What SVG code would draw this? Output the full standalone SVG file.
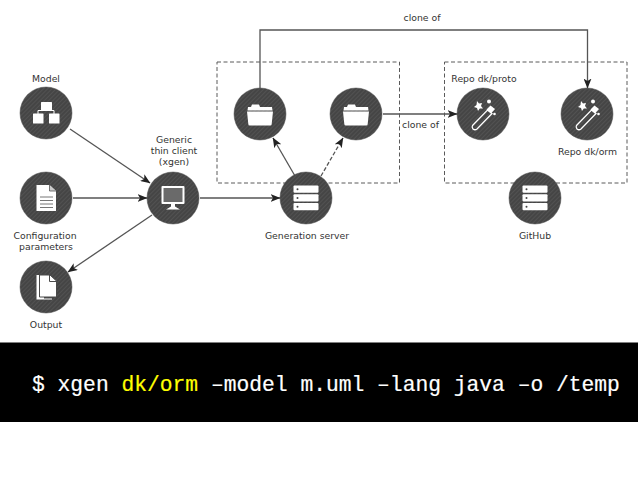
<svg xmlns="http://www.w3.org/2000/svg" width="638" height="478" viewBox="0 0 638 478">
<style>
text{font-family:"DejaVu Sans","Liberation Sans",sans-serif;font-size:9.300px;fill:#333;text-anchor:middle}
.disc{fill:url(#hatch);stroke:#4a4a4a;stroke-width:.5}
.w{fill:#fff;stroke:none}
.conn{fill:none;stroke:#555;stroke-width:1.300}
.box{fill:none;stroke:#5a5a5a;stroke-width:1;stroke-dasharray:4 2.500}
.cmd{font-family:"Liberation Mono","Courier New",monospace;font-size:21.300px;font-weight:400;fill:#fff;text-anchor:start;stroke:#fff;stroke-width:.2}
</style>
<defs>
<pattern id="hatch" width="3" height="3" patternUnits="userSpaceOnUse" patternTransform="rotate(45)">
<rect width="3" height="3" fill="#454545"/><rect width="1" height="3" fill="#525252"/>
</pattern>
<marker id="arr" viewBox="0 0 10 8" refX="9.500" refY="4" markerWidth="10" markerHeight="8" markerUnits="userSpaceOnUse" orient="auto">
<path d="M0 0L10 4L0 8L2.500 4Z" fill="#222"/>
</marker>
<g id="folder"><path class="w" d="M-12-7h3l1-2.500h7l1 2.500h12l.5 3.500h-25Z"/><path class="w" d="M-13-2.500h26l-1.300 12.500a1.500 1.500 0 0 1-1.500 1.500h-20.400a1.500 1.500 0 0 1-1.500-1.500Z"/></g>
<g id="server"><rect class="w" x="-12.500" y="-12.500" width="25" height="7.300" rx="1"/><rect class="w" x="-12.500" y="-3.800" width="25" height="7.300" rx="1"/><rect class="w" x="-12.500" y="5" width="25" height="7.300" rx="1"/><circle cx="-8.500" cy="-8.800" r="1" fill="#444"/><circle cx="-8.500" cy="0" r="1" fill="#444"/><circle cx="-8.500" cy="8.800" r="1" fill="#444"/></g>
<g id="wand"><path d="M-10.500 11.500L4.500-4L9-.5L-6 15Q-8 16.500-10 15Q-11.500 13-10.500 11.500Z" fill="none" stroke="#fff" stroke-width="1.300"/><path class="w" d="M3.500-4.500L7.500-8.500L12-5L8-.5Z"/><path class="w" d="M-6-13l2 2.500 3-.5-1 3 2 2.500-3.200 0-1.800 2.500-1-3-3-1 2.500-2Z"/><circle class="w" cx="6" cy="-12.500" r="2"/><circle class="w" cx="11.500" cy="0" r="1.300"/></g>
</defs>
<rect width="638" height="478" fill="#fff"/>
<g id="connectors">
<path class="conn" d="M70 129L150 183" marker-end="url(#arr)"/>
<path class="conn" d="M73 198H147" marker-end="url(#arr)"/>
<path class="conn" d="M152 215L68 272" marker-end="url(#arr)"/>
<path class="conn" d="M200 198H280" marker-end="url(#arr)"/>
<path class="conn" d="M295 176L273 138" marker-end="url(#arr)"/>
<path class="conn" d="M321 176L343 138" stroke-dasharray="4 2" marker-end="url(#arr)"/>
<path class="conn" d="M383 114H457" marker-end="url(#arr)"/>
<path class="conn" d="M260 88V30H587.500V88" marker-end="url(#arr)"/>
<rect class="box" x="217" y="62" width="182.500" height="121"/>
<rect class="box" x="444.500" y="62" width="182.500" height="121"/>
<text x="422" y="21">clone of</text>
<text x="420.500" y="128">clone of</text>
</g>
<g id="model"><circle class="disc" cx="46" cy="113" r="26"/>
<text x="46" y="82">Model</text>
<path d="M46 107V110M38 115V110.500H54V115" fill="none" stroke="#fff" stroke-width="1"/>
<rect class="w" x="41" y="102" width="11" height="8" rx=".5"/><rect class="w" x="33" y="113.500" width="10.500" height="10" rx=".5"/><rect class="w" x="49" y="113.500" width="10.500" height="10" rx=".5"/></g>
<g id="config"><circle class="disc" cx="46" cy="198" r="26"/>
<path class="w" d="M36.500 185H49.500L56 191V211H36.500Z"/>
<path d="M49.500 185V191H56" fill="#ccc" stroke="#555" stroke-width=".8"/>
<path d="M40 197H53M40 200.500H53M40 204H53M40 207.500H53" fill="none" stroke="#777" stroke-width="1"/>
<text x="45" y="239">Configuration</text><text x="46" y="250">parameters</text></g>
<g id="output"><circle class="disc" cx="46" cy="287" r="26"/>
<path class="w" d="M36.500 275H44V298.500H52V299.500H36.500Z"/>
<path d="M39.500 275V297H56.500V281L50 275Z" fill="#fff" stroke="#4a4a4a" stroke-width="1"/>
<path d="M49.500 275V281.500H56.500" fill="none" stroke="#4a4a4a" stroke-width="1"/>
<text x="46" y="328">Output</text></g>
<g id="client"><circle class="disc" cx="173" cy="198" r="26"/>
<rect class="w" x="161.500" y="186" width="23" height="18" rx="1"/><rect x="163.500" y="188" width="19" height="14" fill="#6a6a6a"/>
<path class="w" d="M171 204H175V206.500L180 209.500H166L171 206.500Z"/>
<text x="174" y="143">Generic</text><text x="174" y="154">thin client</text><text x="174" y="165">(xgen)</text></g>
<g id="server-node"><circle class="disc" cx="306" cy="198" r="26"/><use href="#server" x="306" y="198"/>
<text x="307" y="239">Generation server</text></g>
<g id="folder-a"><circle class="disc" cx="260" cy="114" r="26"/><use href="#folder" x="260" y="114"/></g>
<g id="folder-b"><circle class="disc" cx="356" cy="114" r="26"/><use href="#folder" x="356" y="114"/></g>
<g id="repo-proto"><circle class="disc" cx="483" cy="114" r="26"/><use href="#wand" x="483" y="114"/>
<text x="484" y="82">Repo dk/proto</text></g>
<g id="repo-orm"><circle class="disc" cx="587" cy="114" r="26"/><use href="#wand" x="587" y="114"/>
<text x="587.500" y="155">Repo dk/orm</text></g>
<g id="github"><circle class="disc" cx="535" cy="198" r="26"/><use href="#server" x="535" y="198"/>
<text x="535" y="239">GitHub</text></g>
<g id="command"><rect x="0" y="342.500" width="638" height="79.500" fill="#000"/>
<text class="cmd" x="32" y="391">$ xgen <tspan fill="#ff0" stroke="#ff0">dk/orm</tspan> –model m.uml –lang java –o /temp</text></g>
</svg>
